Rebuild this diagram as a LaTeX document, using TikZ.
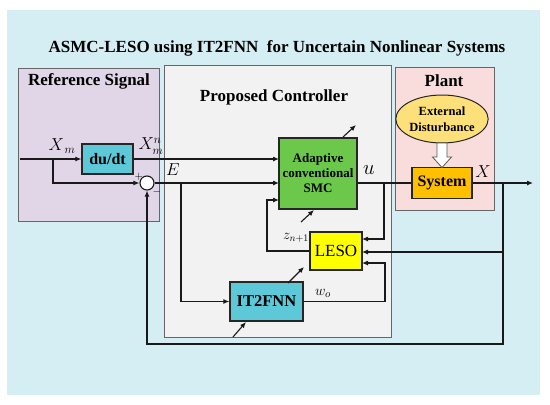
\documentclass[tikz,border=0pt]{standalone}
\usepackage{fontspec}
\setmainfont{Liberation Serif}
\usetikzlibrary{shapes.geometric,arrows.meta,calc}
\definecolor{bgc}{HTML}{D4EEF3}
\definecolor{refc}{HTML}{E1D5E8}
\definecolor{ctrlc}{HTML}{F2F2F2}
\definecolor{plantc}{HTML}{F9DCDC}
\definecolor{cyanb}{HTML}{5CC8D8}
\definecolor{greenb}{HTML}{6CC84A}
\definecolor{yelb}{HTML}{FFFF00}
\definecolor{orangeb}{HTML}{FFC000}
\definecolor{ellc}{HTML}{FDE07A}
\tikzset{
  region/.style={draw=gray!80!black, line width=0.8pt},
  blk/.style={draw=black!85, line width=1.2pt, inner sep=0pt, align=center},
  wire/.style={line width=1.1pt, draw=black!90},
  arr/.style={wire, -{Latex[length=6pt,width=5pt]}},
  lbl/.style={font=\fontsize{17}{20}\selectfont\bfseries, inner sep=0pt},
  mlbl/.style={font=\fontsize{17}{20}\selectfont, inner sep=0pt}
}
\begin{document}
\begin{tikzpicture}[x=1pt,y=-1pt]
\useasboundingbox (0,0) rectangle (550,405);
\fill[bgc] (7,10) rectangle (540,395);
\node[lbl] (title) at (277,48) {ASMC-LESO using IT2FNN\ \ for Uncertain Nonlinear Systems};
% regions
\draw[region, fill=refc] (18,68) rectangle (159,221);
\draw[region, fill=ctrlc] (164,65) rectangle (391,337);
\draw[region, fill=plantc] (395,67) rectangle (494,210);
\node[lbl] (tref) at (89,81) {Reference Signal};
\node[lbl] (tctrl) at (274,97) {Proposed Controller};
\node[lbl] (tplant) at (444,81) {Plant};
% blocks
\node[ellipse, draw=black!85, line width=1pt, fill=ellc, minimum width=90pt, minimum height=48pt, inner sep=0pt, align=center,
  font=\fontsize{12.5}{16}\selectfont\bfseries] (dist) at (442,119) {External\\Disturbance};
\node[blk, fill=orangeb, minimum width=60pt, minimum height=31pt, font=\fontsize{16}{18}\selectfont\bfseries] (sys) at (442,183) {System};
\node[blk, fill=cyanb, minimum width=51pt, minimum height=30pt, font=\fontsize{16}{18}\selectfont\bfseries] (dudt) at (107.5,159) {du/dt};
\node[circle, draw=black!90, line width=1.1pt, fill=white, minimum size=14pt, inner sep=0pt] (sum) at (147,183) {};
\node[blk, fill=greenb, minimum width=78pt, minimum height=71pt, font=\fontsize{13}{15}\selectfont\bfseries] (smc) at (318,173.5) {Adaptive\\conventional\\SMC};
\node[blk, fill=yelb, minimum width=52pt, minimum height=38pt, font=\fontsize{17}{20}\selectfont] (leso) at (336,251) {LESO};
\node[blk, fill=cyanb, minimum width=73pt, minimum height=39pt, font=\fontsize{16.5}{20}\selectfont\bfseries] (it2) at (266.5,301.5) {IT2FNN};
% hollow arrow
\draw[fill=white, draw=gray!70!black, line width=0.8pt] (437,143) -- (447,143) -- (447,157) -- (451.5,157) -- (442,167.5) -- (432.5,157) -- (437,157) -- cycle;
% coordinates
\coordinate (in) at (20,159);
\coordinate (b1) at (53,159);
\coordinate (eb) at (181,183);
\coordinate (ub) at (384,183);
\coordinate (out) at (533,183);
\coordinate (xb) at (503,183);
\coordinate (fb) at (503,344);
\coordinate (xb2) at (503,252);
\coordinate (wc) at (385,301.5);
\coordinate (zc) at (267,251);
\coordinate (s1) at (279,159);
\coordinate (s2) at (279,183);
\coordinate (s3) at (279,200);
\coordinate (l1) at (362,239);
\coordinate (l2) at (362,252);
\coordinate (l3) at (362,263);
% connectors
\draw[arr] (in) -- (dudt.west);
\draw[arr] (b1) |- (sum.west);
\draw[arr] (dudt.east) -- (s1);
\draw[arr] (sum.east) -- (s2);
\draw[arr] (eb) |- (it2.west);
\draw[wire] (smc.east |- sys.west) -- (sys.west);
\draw[arr] (ub) |- (l1);
\draw[arr] (sys.east) -- (out);
\draw[arr] (xb) -- (fb) -| (sum.south);
\draw[arr] (xb2) -- (l2);
\draw[arr] (it2.east) -- (wc) |- (l3);
\draw[arr] (leso.west) -- (zc) |- (s3);
% adaptation arrows
\coordinate (a1s) at (343,137); \coordinate (a1e) at (356,125);
\coordinate (a2s) at (301,222); \coordinate (a2e) at (314,210);
\coordinate (a3s) at (288,283); \coordinate (a3e) at (304,267);
\coordinate (a4s) at (233,337); \coordinate (a4e) at (246,322);
\draw[arr] (a1s) -- (a1e);
\draw[arr] (a2s) -- (a2e);
\draw[arr] (a3s) -- (a3e);
\draw[arr] (a4s) -- (a4e);
% labels
\node[mlbl] (lxm) at (62,146) {$X_{\,m}$};
\node[mlbl] (lxmn) at (151,146) {$X_{m}^{n}$};
\node[font=\fontsize{11}{12}\selectfont, inner sep=0pt] (lplus) at (139,177) {$+$};
\node[font=\fontsize{11}{12}\selectfont, inner sep=0pt] (lminus) at (157,192) {$-$};
\node[mlbl] (lE) at (173,170) {$E$};
\node[font=\fontsize{20}{22}\selectfont, inner sep=0pt] (lu) at (369,170) {$u$};
\node[mlbl] (lX) at (483,172) {$X$};
\node[font=\fontsize{14}{16}\selectfont, inner sep=0pt] (lz) at (296,238) {$z_{n+1}$};
\node[font=\fontsize{15}{16}\selectfont, inner sep=0pt] (lw) at (323,293) {$w_{o}$};
\end{tikzpicture}
\end{document}
